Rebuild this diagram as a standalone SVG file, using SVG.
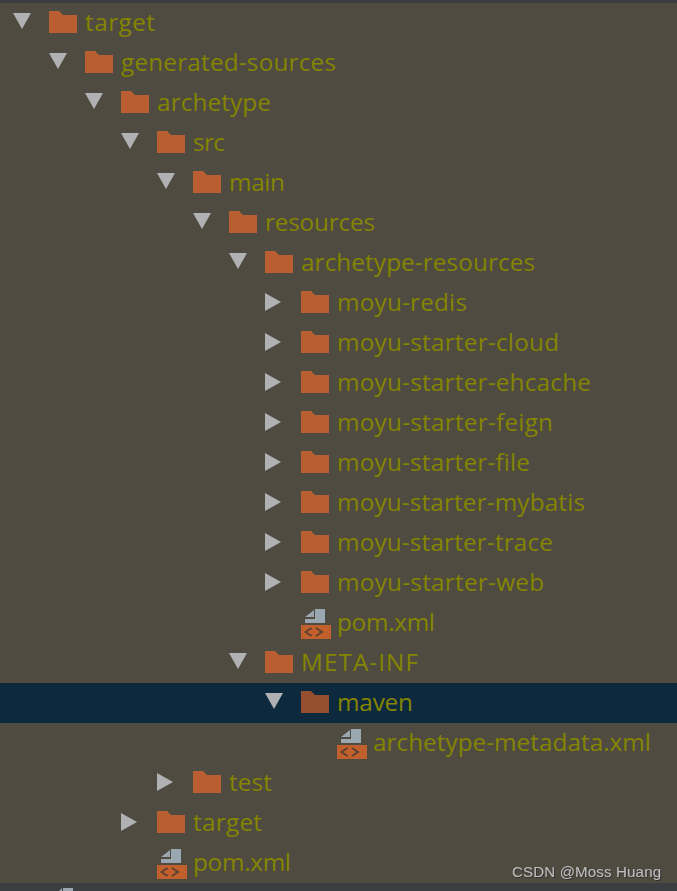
<svg xmlns="http://www.w3.org/2000/svg" width="677" height="891" viewBox="0 0 677 891">
<style>
.t{font-family:"Open Sans","Noto Sans",sans-serif;font-size:24.3px;fill:#858500}
.a{fill:#afb1b3}
.f{fill:#b85e30}
.w{font-family:"Liberation Sans",Arial,sans-serif;font-size:15px;fill:#bdbdbd}
</style>
<defs>
<filter id="sh" x="-5%" y="-20%" width="110%" height="140%"><feDropShadow dx="1" dy="1" stdDeviation="0.4" flood-color="#2a2a2a" flood-opacity="0.8"/></filter>
<path id="down" d="M0 -9H18L9 7Z"/>
<path id="right" d="M0 -9L16 0L0 9Z"/>
<path id="folder" d="M0 -11H10L14 -7H28V11H0Z"/>
<g id="xml"><path d="M14 -13H24V1H4V-3H14Z M4 -5L13 -12V-5Z" fill="#9aa7b0"/><rect y="3" width="30" height="14" fill="#c2602d"/><path d="M10.5 6L4.5 10L10.5 14M15 6L21 10L15 14" fill="none" stroke="#5a3f30" stroke-width="1.8"/></g>
</defs>
<rect width="677" height="891" fill="#4f4b41"/>
<rect width="677" height="3" fill="#3c3f41"/>
<rect y="883" width="677" height="8" fill="#3c3f41"/>
<rect y="683" width="677" height="40" fill="#0d293e"/>
<path d="M63 888H73V891H63ZM59 891L62 888V891Z" fill="#9aa7b0"/>
<g id="target"><use href="#down" x="13" y="22" class="a"/><use href="#folder" x="49" y="22" class="f"/><text class="t" x="85" y="31" textLength="70">target</text></g>
<g id="generated-sources"><use href="#down" x="49" y="62" class="a"/><use href="#folder" x="85" y="62" class="f"/><text class="t" x="121" y="71" textLength="215">generated-sources</text></g>
<g id="archetype"><use href="#down" x="85" y="102" class="a"/><use href="#folder" x="121" y="102" class="f"/><text class="t" x="157" y="111" textLength="114">archetype</text></g>
<g id="src"><use href="#down" x="121" y="142" class="a"/><use href="#folder" x="157" y="142" class="f"/><text class="t" x="193" y="151" textLength="32">src</text></g>
<g id="main"><use href="#down" x="157" y="182" class="a"/><use href="#folder" x="193" y="182" class="f"/><text class="t" x="229" y="191" textLength="56">main</text></g>
<g id="resources"><use href="#down" x="193" y="222" class="a"/><use href="#folder" x="229" y="222" class="f"/><text class="t" x="265" y="231" textLength="110">resources</text></g>
<g id="archetype-resources"><use href="#down" x="229" y="262" class="a"/><use href="#folder" x="265" y="262" class="f"/><text class="t" x="301" y="271" textLength="234">archetype-resources</text></g>
<g id="moyu-redis"><use href="#right" x="265" y="302" class="a"/><use href="#folder" x="301" y="302" class="f"/><text class="t" x="337" y="311" textLength="130">moyu-redis</text></g>
<g id="moyu-starter-cloud"><use href="#right" x="265" y="342" class="a"/><use href="#folder" x="301" y="342" class="f"/><text class="t" x="337" y="351" textLength="222">moyu-starter-cloud</text></g>
<g id="moyu-starter-ehcache"><use href="#right" x="265" y="382" class="a"/><use href="#folder" x="301" y="382" class="f"/><text class="t" x="337" y="391" textLength="254">moyu-starter-ehcache</text></g>
<g id="moyu-starter-feign"><use href="#right" x="265" y="422" class="a"/><use href="#folder" x="301" y="422" class="f"/><text class="t" x="337" y="431" textLength="216">moyu-starter-feign</text></g>
<g id="moyu-starter-file"><use href="#right" x="265" y="462" class="a"/><use href="#folder" x="301" y="462" class="f"/><text class="t" x="337" y="471" textLength="193">moyu-starter-file</text></g>
<g id="moyu-starter-mybatis"><use href="#right" x="265" y="502" class="a"/><use href="#folder" x="301" y="502" class="f"/><text class="t" x="337" y="511" textLength="248">moyu-starter-mybatis</text></g>
<g id="moyu-starter-trace"><use href="#right" x="265" y="542" class="a"/><use href="#folder" x="301" y="542" class="f"/><text class="t" x="337" y="551" textLength="216">moyu-starter-trace</text></g>
<g id="moyu-starter-web"><use href="#right" x="265" y="582" class="a"/><use href="#folder" x="301" y="582" class="f"/><text class="t" x="337" y="591" textLength="207">moyu-starter-web</text></g>
<g id="pom-inner"><use href="#xml" x="301" y="622"/><text class="t" x="337" y="631" textLength="98">pom.xml</text></g>
<g id="meta-inf"><use href="#down" x="229" y="662" class="a"/><use href="#folder" x="265" y="662" class="f"/><text class="t" x="301" y="671" textLength="117">META-INF</text></g>
<g id="maven"><use href="#down" x="265" y="702" class="a"/><use href="#folder" x="301" y="702" fill="#954f30"/><text class="t" x="337" y="711" textLength="76">maven</text></g>
<g id="archetype-metadata"><use href="#xml" x="337" y="742"/><text class="t" x="373" y="751" textLength="278">archetype-metadata.xml</text></g>
<g id="test"><use href="#right" x="157" y="782" class="a"/><use href="#folder" x="193" y="782" class="f"/><text class="t" x="229" y="791" textLength="43">test</text></g>
<g id="target-2"><use href="#right" x="121" y="822" class="a"/><use href="#folder" x="157" y="822" class="f"/><text class="t" x="193" y="831" textLength="69">target</text></g>
<g id="pom-root"><use href="#xml" x="157" y="862"/><text class="t" x="193" y="871" textLength="98">pom.xml</text></g>
<text class="w" x="512" y="877" textLength="149" filter="url(#sh)">CSDN @Moss Huang</text>
</svg>
